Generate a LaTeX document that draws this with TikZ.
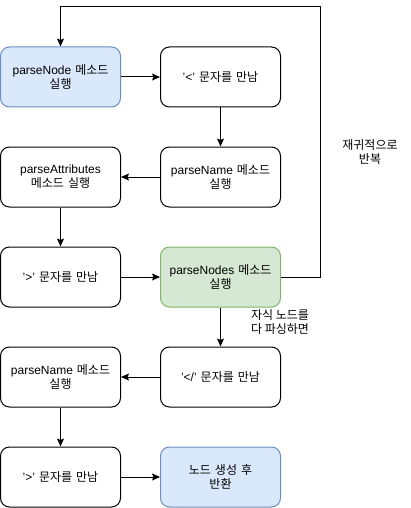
\documentclass[tikz,border=0pt]{standalone}
\usepackage{fontspec}
\setmainfont{Liberation Sans}
\newfontfamily\kr{Noto Sans CJK KR}
\usetikzlibrary{arrows.meta}
\definecolor{bluefill}{HTML}{DAE8FC}
\definecolor{bluedraw}{HTML}{6C8EBF}
\definecolor{greenfill}{HTML}{D5E8D4}
\definecolor{greendraw}{HTML}{82B366}
\tikzset{
  box/.style={draw=black, line width=1pt, rounded corners=9pt, minimum width=120pt, minimum height=60pt, inner sep=0pt, align=center, font=\fontsize{12pt}{14pt}\selectfont, text width=110pt},
  bluebox/.style={box, draw=bluedraw, fill=bluefill},
  greenbox/.style={box, draw=greendraw, fill=greenfill},
  conn/.style={line width=1pt, -{Stealth[length=8pt,width=7pt,inset=1.5pt]}},
  lbl/.style={font=\fontsize{12pt}{14pt}\selectfont, align=center, inner sep=0pt},
}
\begin{document}
\begin{tikzpicture}[x=1pt,y=-1pt]
\useasboundingbox (0,0) rectangle (411,508);
\node[bluebox] (n1) at (60.5,77) {parseNode {\kr 메소드}\\{\kr 실행}};
\node[box] (n2) at (220.5,77) {'<' {\kr 문자를 만남}};
\node[box] (n3) at (220.5,177) {parseName {\kr 메소드}\\{\kr 실행}};
\node[box] (n4) at (60.5,177) {parseAttributes\\{\kr 메소드 실행}};
\node[box] (n5) at (60.5,277) {'>' {\kr 문자를 만남}};
\node[greenbox] (n6) at (220.5,277) {parseNodes {\kr 메소드}\\{\kr 실행}};
\node[box] (n7) at (220.5,377) {'</' {\kr 문자를 만남}};
\node[box] (n8) at (60.5,377) {parseName {\kr 메소드}\\{\kr 실행}};
\node[box] (n9) at (60.5,477) {'>' {\kr 문자를 만남}};
\node[bluebox] (n10) at (220.5,477) {{\kr 노드 생성 후}\\{\kr 반환}};
\coordinate (c1) at (320.5,277);
\coordinate (c2) at (320.5,7);
\coordinate (c3) at (60.5,7);
\draw[conn] (n1) -- (n2);
\draw[conn] (n2) -- (n3);
\draw[conn] (n3) -- (n4);
\draw[conn] (n4) -- (n5);
\draw[conn] (n5) -- (n6);
\draw[conn] (n6.east) -- (c1) -- (c2) -- (c3) -- (n1.north);
\draw[conn] (n6) -- (n7);
\draw[conn] (n7) -- (n8);
\draw[conn] (n8) -- (n9);
\draw[conn] (n9) -- (n10);
\node[lbl] (l1) at (370,152) {\kr 재귀적으로\\\kr 반복};
\node[lbl] (l2) at (280,322) {\kr 자식 노드를\\\kr 다 파싱하면};
\end{tikzpicture}
\end{document}
